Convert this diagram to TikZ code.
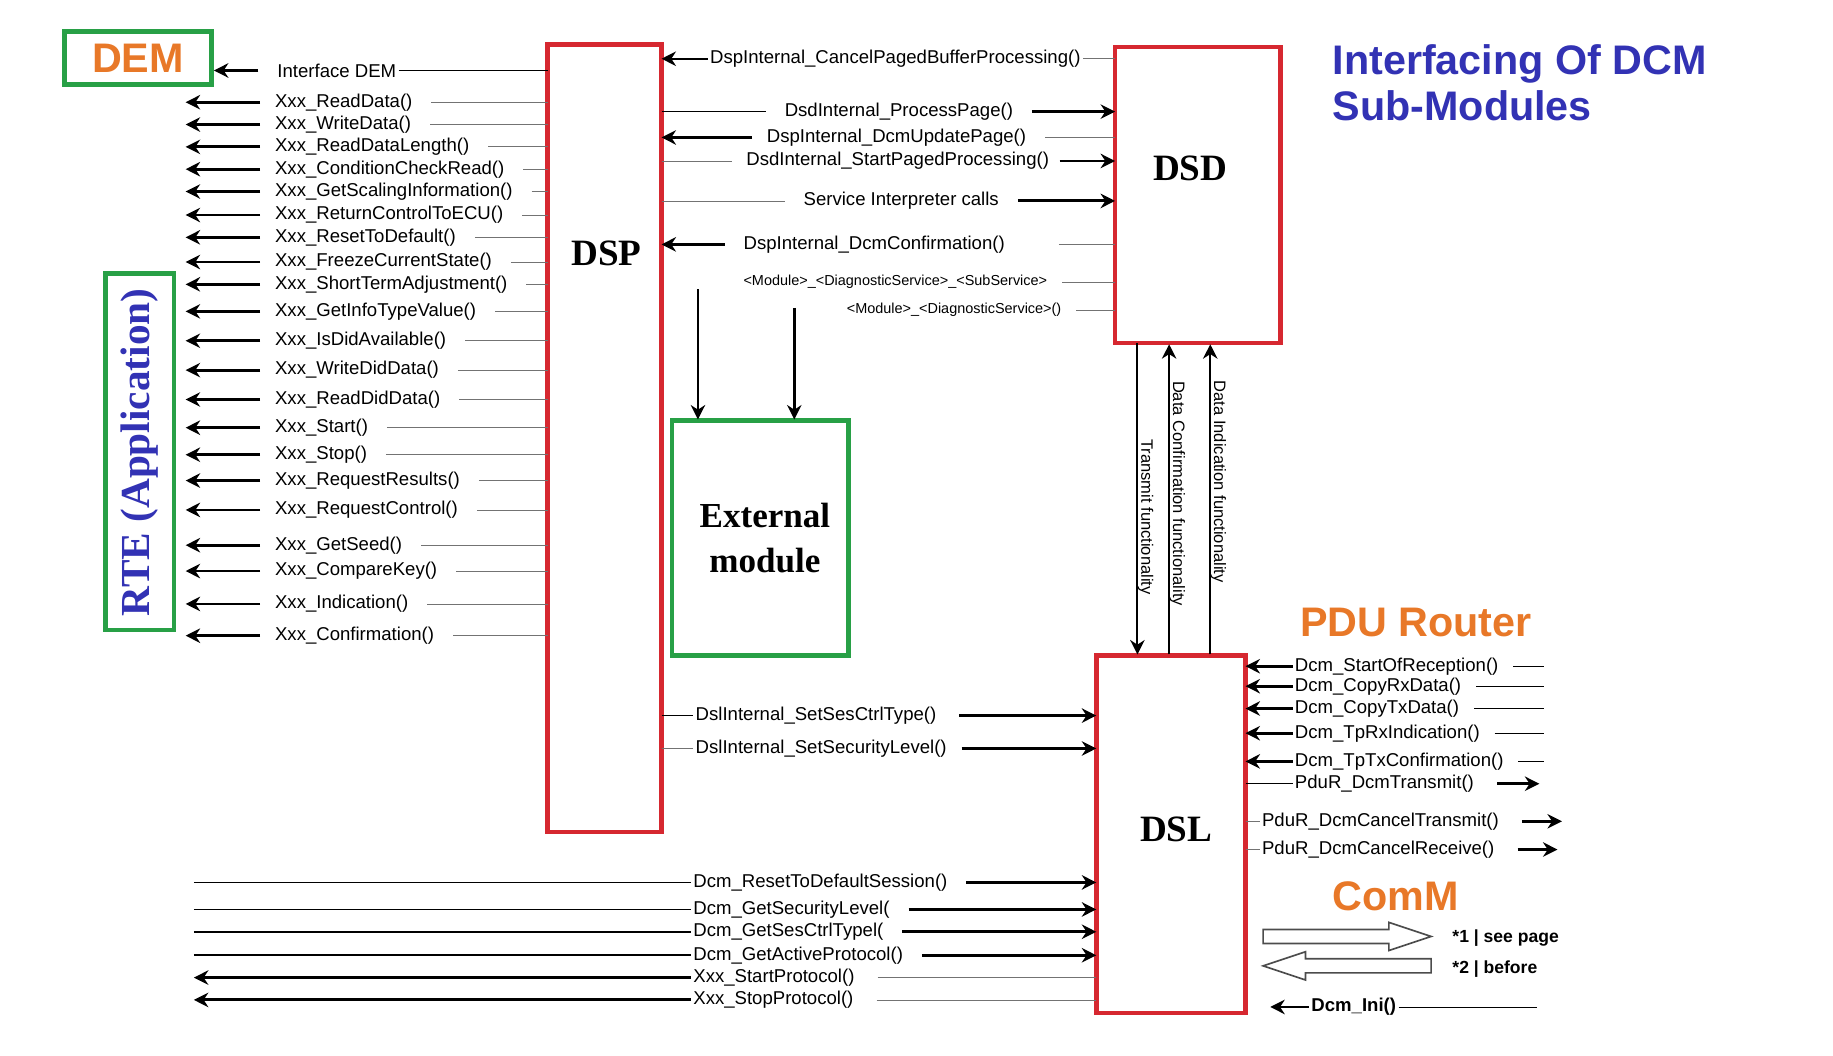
\documentclass[tikz,border=0pt]{standalone}
\usepackage{fontspec}
\setmainfont{Liberation Sans}
\newfontfamily\serifbox{Liberation Serif}
\usetikzlibrary{arrows.meta,positioning}
\definecolor{dcmred}{RGB}{214,40,48}
\definecolor{dcmgreen}{RGB}{40,160,70}
\definecolor{dcmorange}{RGB}{232,120,40}
\definecolor{dcmblue}{RGB}{50,50,180}
\tikzset{
  module/.style={draw=dcmred, line width=2.2pt},
  ext/.style={draw=dcmgreen, line width=2.2pt},
  call/.style={font=\fontsize{9}{10}\selectfont, inner sep=1pt},
  small call/.style={font=\fontsize{7}{8}\selectfont, inner sep=1pt},
  feed/.style={draw=black!55, thin},
  fat/.style={draw=black, line width=1.4pt, -{Stealth[length=7pt,width=7pt]}},
  boxtitle/.style={font=\serifbox\bfseries\fontsize{18}{20}\selectfont},
  heading/.style={font=\bfseries\fontsize{20}{22}\selectfont}
}
\begin{document}
\begin{tikzpicture}[x=0.02cm,y=-0.02cm]
  \useasboundingbox (0,0) rectangle (1560,898);
  % boxes
  \draw[ext] (55,27) rectangle (180,72);
  \node[heading, text=dcmorange] (dem) at (117.5,50) {DEM};
  \coordinate (demedge) at (182,0);
  \draw[ext] (90,233) rectangle (148,536);
  \node[font=\serifbox\bfseries\fontsize{20}{22}\selectfont, text=dcmblue, rotate=90] (rte) at (119,385) {RTE (Application)};
  \coordinate (rteedge) at (158,0);
  \draw[module] (466,38) rectangle (563,708);
  \node[boxtitle] at (516,216) {DSP};
  \coordinate (dspL) at (466,0);
  \coordinate (dspR) at (563,0);
  \draw[module] (949,40) rectangle (1090,292);
  \node[boxtitle] at (1013,143) {DSD};
  \coordinate (dsdL) at (949,0);
  \draw[module] (933,558) rectangle (1060,862);
  \node[boxtitle] at (1001,706) {DSL};
  \coordinate (dslL) at (933,0);
  \coordinate (dslR) at (1060,0);
  \draw[ext] (572,358) rectangle (722,558);
  \node[font=\serifbox\bfseries\fontsize{17}{22}\selectfont, align=center] (extm) at (651,458) {External\\module};
  \coordinate (extTop) at (0,357);
  \node[heading, text=dcmblue, anchor=north west, align=left] (title) at (1128,32) {Interfacing Of DCM\\Sub-Modules};
  \node[heading, text=dcmorange] (pdur) at (1205,530) {PDU Router};
  \node[heading, text=dcmorange] (comm) at (1188,763) {ComM};

  % DSP -> DEM / RTE
  \node[call, anchor=west] (idem) at (234,60) {Interface DEM};
  \draw[feed, draw=black] (idem.east) -- (idem.east -| dspL);
  \draw[fat] ([xshift=-8]idem.west) -- (idem.west -| demedge);
  \foreach \y/\txt [count=\i] in {87/ReadData(), 106/WriteData(), 125/ReadDataLength(),
      144/ConditionCheckRead(), 163/GetScalingInformation(), 183/ReturnControlToECU(),
      202/ResetToDefault(), 223/FreezeCurrentState(), 242/ShortTermAdjustment(),
      265/GetInfoTypeValue(), 290/IsDidAvailable(), 315/WriteDidData(), 340/ReadDidData(),
      364/Start(), 387/Stop(), 409/RequestResults(), 434/RequestControl(),
      464/GetSeed(), 486/CompareKey(), 514/Indication(), 541/Confirmation()} {
    \node[call, anchor=west] (l\i) at (232,\y) {Xxx\_\txt};
    \draw[feed] ([xshift=8]l\i.east) -- (l\i.east -| dspL);
    \draw[fat] ([xshift=-6]l\i.west) -- (l\i.west -| rteedge);
  }

  % DSP <-> DSD
  \node[call] (d1) at (762,50) {DspInternal\_CancelPagedBufferProcessing()};
  \draw[feed] (d1.east) -- (d1.east -| dsdL);
  \draw[fat, line width=1pt] (d1.west) -- (d1.west -| dspR);
  \node[call] (d2) at (765,95) {DsdInternal\_ProcessPage()};
  \draw[feed, draw=black] (d2.west -| dspR) -- ([xshift=-8]d2.west);
  \draw[fat] ([xshift=8]d2.east) -- (d2.east -| dsdL);
  \node[call] (d3) at (763,117) {DspInternal\_DcmUpdatePage()};
  \draw[feed] ([xshift=8]d3.east) -- (d3.east -| dsdL);
  \draw[fat] ([xshift=-6]d3.west) -- (d3.west -| dspR);
  \node[call] (d4) at (764,137) {DsdInternal\_StartPagedProcessing()};
  \draw[feed] (d4.west -| dspR) -- ([xshift=-6]d4.west);
  \draw[fat] ([xshift=4]d4.east) -- (d4.east -| dsdL);
  \node[call] (d5) at (767,171) {Service Interpreter calls};
  \draw[feed] (d5.west -| dspR) -- ([xshift=-8]d5.west);
  \draw[fat] ([xshift=8]d5.east) -- (d5.east -| dsdL);
  \node[call] (d6) at (744,208) {DspInternal\_DcmConfirmation()};
  \draw[feed] ([xshift=25]d6.east) -- (d6.east -| dsdL);
  \draw[fat] ([xshift=-8]d6.west) -- (d6.west -| dspR);
  \node[small call] (d7) at (762,240) {<Module>\_<DiagnosticService>\_<SubService>};
  \draw[feed] ([xshift=6]d7.east) -- (d7.east -| dsdL);
  \node[small call] (d8) at (812,264) {<Module>\_<DiagnosticService>()};
  \draw[feed] ([xshift=6]d8.east) -- (d8.east -| dsdL);
  \coordinate (e1) at (594,246);
  \coordinate (e2) at (676,262);
  \draw[fat, line width=1.2pt] (e1) -- (e1 |- extTop);
  \draw[fat, line width=1.2pt] (e2) -- (e2 |- extTop);

  % DSD <-> DSL
  \draw[fat, line width=1pt] (968,292) -- (968,557);
  \node[small call, font=\fontsize{8}{9}\selectfont, rotate=-90] (tx) at (975,440) {Transmit functionality};
  \draw[fat, line width=1pt] (995,557) -- (995,293);
  \node[small call, font=\fontsize{8}{9}\selectfont, rotate=-90] (dc) at (1002,420) {Data Confirmation functionality};
  \draw[fat, line width=1pt] (1030,557) -- (1030,293);
  \node[small call, font=\fontsize{8}{9}\selectfont, rotate=-90] (di) at (1037,410) {Data Indication functionality};

  % DSP -> DSL
  \node[call, anchor=west] (s1) at (590,609) {DslInternal\_SetSesCtrlType()};
  \draw[feed, draw=black] (s1.west -| dspR) -- (s1.west);
  \draw[fat] ([xshift=10]s1.east) -- (s1.east -| dslL);
  \node[call, anchor=west] (s2) at (590,637) {DslInternal\_SetSecurityLevel()};
  \draw[feed] (s2.west -| dspR) -- (s2.west);
  \draw[fat] ([xshift=6]s2.east) -- (s2.east -| dslL);

  % RTE <-> DSL
  \coordinate (bottomedge) at (165,0);
  \foreach \y/\txt [count=\i] in {751/Dcm\_ResetToDefaultSession(), 774/Dcm\_GetSecurityLevel(,
      793/Dcm\_GetSesCtrlTypel(, 813/Dcm\_GetActiveProtocol()} {
    \node[call, anchor=west] (b\i) at (588,\y) {\txt};
    \draw[feed, draw=black, thick] (b\i.west -| bottomedge) -- (b\i.west);
    \draw[fat] ([xshift=8]b\i.east) -- (b\i.east -| dslL);
  }
  \foreach \y/\txt [count=\i] in {832/Xxx\_StartProtocol(), 851/Xxx\_StopProtocol()} {
    \node[call, anchor=west] (r\i) at (588,\y) {\txt};
    \draw[fat] (r\i.west) -- (r\i.west -| bottomedge);
    \draw[feed] ([xshift=10]r\i.east) -- (r\i.east -| dslL);
  }

  % DSL <-> PDU Router / ComM
  \coordinate (pduedge) at (1314,0);
  \foreach \y/\txt [count=\i] in {567/StartOfReception(), 584/CopyRxData(), 603/CopyTxData(),
      624/TpRxIndication(), 648/TpTxConfirmation()} {
    \node[call, anchor=west] (p\i) at (1100,\y) {Dcm\_\txt};
    \draw[feed, draw=black] ([xshift=6]p\i.east) -- (p\i.east -| pduedge);
    \draw[fat] (p\i.west) -- (p\i.west -| dslR);
  }
  \node[call, anchor=west] (t1) at (1100,667) {PduR\_DcmTransmit()};
  \draw[feed, draw=black] (t1.west -| dslR) -- (t1.west);
  \draw[fat] ([xshift=10]t1.east) -- ++(36,0);
  \node[call, anchor=west] (t2) at (1072,699) {PduR\_DcmCancelTransmit()};
  \draw[feed] (t2.west -| dslR) -- (t2.west);
  \draw[fat] ([xshift=10]t2.east) -- ++(34,0);
  \node[call, anchor=west] (t3) at (1072,723) {PduR\_DcmCancelReceive()};
  \draw[feed] (t3.west -| dslR) -- (t3.west);
  \draw[fat] ([xshift=10]t3.east) -- ++(34,0);
  \node[call, font=\bfseries\fontsize{9}{10}\selectfont, anchor=west] (ini) at (1114,857) {Dcm\_Ini()};
  \draw[feed, draw=black] (ini.east) -- ++(118,0);
  \draw[fat] (ini.west) -- ([xshift=12]ini.west -| dslR);
  \draw[black!70, thick] (1075,791) -- (1182,791) -- (1182,785) -- (1218,797) -- (1182,809) -- (1182,803) -- (1075,803) -- cycle;
  \draw[black!70, thick] (1218,816) -- (1111,816) -- (1111,810) -- (1075,822) -- (1111,834) -- (1111,828) -- (1218,828) -- cycle;
  \node[call, font=\bfseries\fontsize{8.5}{10}\selectfont, anchor=west] (n1) at (1234,798) {*1 | see page};
  \node[call, font=\bfseries\fontsize{8.5}{10}\selectfont, anchor=west] (n2) at (1234,825) {*2 | before};
\end{tikzpicture}
\end{document}
